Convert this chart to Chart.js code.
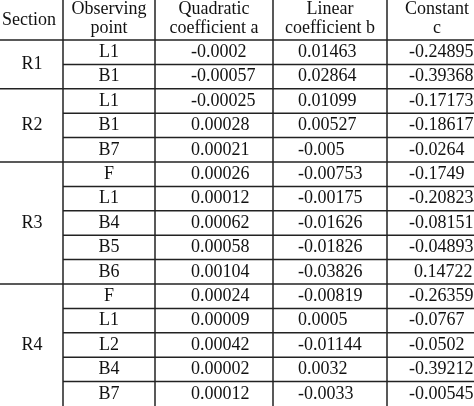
<!DOCTYPE html>
<html>
<head>
<meta charset="utf-8">
<script src="https://cdn.jsdelivr.net/npm/chart.js@4/dist/chart.umd.min.js"></script>
<style>
  html, body { margin: 0; padding: 0; background: #fff; }
  #wrap { width: 474px; height: 406px; }
</style>
</head>
<body>
<div id="wrap"><canvas id="c"></canvas></div>
<script>
// table data
const headers = [['Section'], ['Observing', 'point'], ['Quadratic', 'coefficient a'], ['Linear', 'coefficient b'], ['Constant', 'c']];
const sections = ['R1', 'R2', 'R3', 'R4'];
const sectionRows = [2, 3, 5, 5];
const points = ['L1', 'B1', 'L1', 'B1', 'B7', 'F', 'L1', 'B4', 'B5', 'B6', 'F', 'L1', 'L2', 'B4', 'B7'];
const quadA = ['-0.0002', '-0.00057', '-0.00025', '0.00028', '0.00021', '0.00026', '0.00012', '0.00062', '0.00058', '0.00104', '0.00024', '0.00009', '0.00042', '0.00002', '0.00012'];
const linearB = ['0.01463', '0.02864', '0.01099', '0.00527', '-0.005', '-0.00753', '-0.00175', '-0.01626', '-0.01826', '-0.03826', '-0.00819', '0.0005', '-0.01144', '0.0032', '-0.0033'];
const constC = ['-0.24895', '-0.39368', '-0.17173', '-0.18617', '-0.0264', '-0.1749', '-0.20823', '-0.08151', '-0.04893', '0.14722', '-0.26359', '-0.0767', '-0.0502', '-0.39212', '-0.00545'];

// layout (in table units = px)
const colLines = [63, 155, 273, 387];
const headerBottom = 40;
const rowH = 24.4;

const tablePlugin = {
  id: 'table',
  afterDraw(chart) {
    const ctx = chart.ctx;
    const X = v => chart.scales.x.getPixelForValue(v);
    const Y = v => chart.scales.y.getPixelForValue(v);
    ctx.save();
    ctx.strokeStyle = '#222';
    ctx.lineWidth = 1.5;
    ctx.fillStyle = '#111';
    ctx.font = '18px "Liberation Serif", "DejaVu Serif", serif';
    ctx.textBaseline = 'middle';

    const hline = (x0, x1, y) => { ctx.beginPath(); ctx.moveTo(X(x0), Y(y)); ctx.lineTo(X(x1), Y(y)); ctx.stroke(); };
    colLines.forEach(x => { ctx.beginPath(); ctx.moveTo(X(x), Y(0)); ctx.lineTo(X(x), Y(406)); ctx.stroke(); });
    hline(0, 474, headerBottom);

    // headers
    const colCenters = [29, 109, 214, 330, 437];
    ctx.textAlign = 'center';
    headers.forEach((lines, i) => {
      if (lines.length === 1) ctx.fillText(lines[0], X(colCenters[i]), Y(headerBottom / 2));
      else lines.forEach((t, k) => ctx.fillText(t, X(colCenters[i]), Y(9 + k * 19)));
    });

    // section groups
    let r = 0;
    sections.forEach((s, i) => {
      const top = headerBottom + r * rowH;
      const n = sectionRows[i];
      ctx.textAlign = 'center';
      ctx.fillText(s, X(32), Y(top + n * rowH / 2));
      for (let k = 1; k < n; k++) hline(63, 474, top + k * rowH);
      r += n;
      if (i < sections.length - 1) hline(0, 474, headerBottom + r * rowH);
    });

    // rows
    points.forEach((p, i) => {
      const yc = headerBottom + (i + 0.5) * rowH;
      ctx.textAlign = 'center';
      ctx.fillText(p, X(109), Y(yc));
      ctx.textAlign = 'left';
      ctx.fillText(quadA[i], X(191), Y(yc));
      ctx.fillText(linearB[i], X(298), Y(yc));
      ctx.fillText(constC[i], X(constC[i][0] === '-' ? 409 : 414), Y(yc));
    });
    ctx.restore();
  }
};

new Chart(document.getElementById('c'), {
  type: 'scatter',
  data: { datasets: [{ data: [] }] },
  options: {
    responsive: true,
    maintainAspectRatio: false,
    animation: false,
    layout: { padding: 0 },
    plugins: { legend: { display: false }, tooltip: { enabled: false } },
    scales: {
      x: { type: 'linear', min: 0, max: 474, display: false },
      y: { type: 'linear', min: 0, max: 406, reverse: true, display: false }
    }
  },
  plugins: [tablePlugin]
});
</script>
</body>
</html>
